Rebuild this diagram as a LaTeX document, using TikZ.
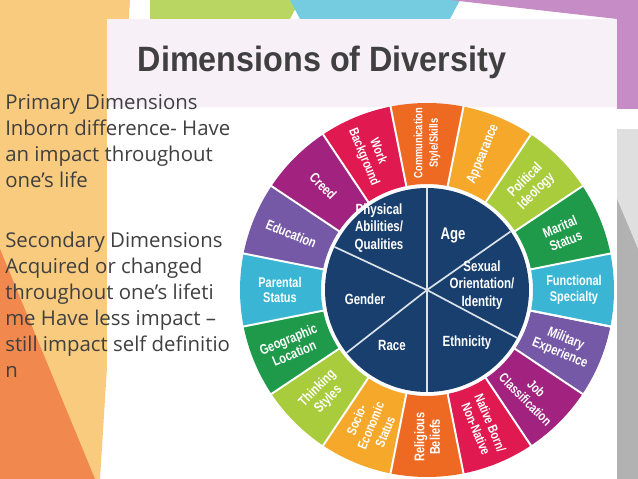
\documentclass[tikz,border=0pt]{standalone}
\usepackage{fontspec}
\setmainfont{Open Sans}
\newfontfamily\wheelfont{Liberation Sans}[FakeStretch=0.78]
\newfontfamily\titlefont{Liberation Sans}[FakeStretch=0.92]
\definecolor{dvOrange}{HTML}{EE6A22}
\definecolor{dvAmber}{HTML}{F5A82A}
\definecolor{dvLime}{HTML}{A8CC3C}
\definecolor{dvGreen}{HTML}{1E9A4A}
\definecolor{dvCyan}{HTML}{3AB6D4}
\definecolor{dvPurple}{HTML}{7558A6}
\definecolor{dvMagenta}{HTML}{A1237F}
\definecolor{dvRed}{HTML}{E01A50}
\definecolor{dvNavy}{HTML}{183F6E}
\definecolor{dvText}{HTML}{404040}
\begin{document}
\begin{tikzpicture}[x=0.025cm,y=0.025cm,
  ringlabel/.style={text=white,font=\wheelfont\bfseries\fontsize{#1}{11}\selectfont,inner sep=0pt,align=center},
  corelabel/.style={text=white,font=\wheelfont\bfseries\fontsize{10.5}{12.5}\selectfont,inner sep=0pt,align=center},
  bodytext/.style={text=dvText,font=\fontsize{14.5}{18.5}\selectfont,anchor=north west,align=left,inner sep=0pt}]
\useasboundingbox (0,0) rectangle (638,479);
% slide background
\fill[dvAmber!60] (0,479) -- (130,479) -- (100,0) -- (0,0) -- cycle;
\fill[dvOrange!80] (0,230) -- (95,0) -- (0,0) -- cycle;
\fill[dvLime!80] (150,479) -- (300,479) -- (290,460) -- (150,460) -- cycle;
\fill[dvCyan!70] (290,479) -- (460,479) -- (450,460) -- (300,460) -- cycle;
\fill[violet!45] (450,479) -- (638,479) -- (638,370) -- (617,370) -- (617,460) -- cycle;
\fill[gray!25] (617,350) rectangle (638,0);
\fill[gray!60] (638,230) -- (617,280) -- (617,0) -- (638,0) -- cycle;
\fill[white] (107,0) rectangle (617,460);
\fill[violet!6] (107,460) rectangle (617,372);
% title and text
\node[text=dvText,font=\titlefont\bfseries\fontsize{25}{28}\selectfont] (title) at (322,417) {Dimensions of Diversity};
\node[bodytext] (primary) at (5,385) {Primary Dimensions\\Inborn difference- Have\\an impact throughout\\one’s life};
\node[bodytext] (secondary) at (5,247) {Secondary Dimensions\\Acquired or changed\\throughout one’s lifeti\\me Have less impact –\\still impact self definitio\\n};
% the wheel
\begin{scope}[shift={(427,189)}]
  \foreach \a/\col/\fs/\txt [count=\i] in {
      90/dvOrange/8.5/{Communication\\Style/Skills},
      67.5/dvAmber/10/{Appearance},
      45/dvLime/10/{Political\\Ideology},
      22.5/dvGreen/10/{Marital\\Status},
      0/dvCyan/10/{Functional\\Specialty},
      -22.5/dvPurple/10/{Military\\Experience},
      -45/dvMagenta/9.5/{Job\\Classification},
      -67.5/dvRed/9.5/{Native Born/\\Non-Native},
      -90/dvOrange/10/{Religious\\Beliefs},
      -112.5/dvAmber/9.5/{Socio-\\Economic\\Status},
      -135/dvLime/10/{Thinking\\Styles},
      -157.5/dvGreen/10/{Geographic\\Location},
      180/dvCyan/10/{Parental\\Status},
      157.5/dvPurple/10/{Education},
      135/dvMagenta/10/{Creed},
      112.5/dvRed/9.5/{Work\\Background}}{
    \fill[\col] (\a-11.25:106) -- (\a-11.25:187) arc[start angle=\a-11.25,end angle=\a+11.25,radius=187]
      -- (\a+11.25:106) arc[start angle=\a+11.25,end angle=\a-11.25,radius=106] -- cycle;
    \pgfmathsetmacro\rot{(\a>90)?(\a-180):((\a<-89)?(\a+180):\a)}
    \node[ringlabel=\fs,rotate=\rot] (ring\i) at (\a:147) {\txt};
  }
  \foreach \a in {-11.25,11.25,...,348.75}
    \draw[white,line width=1.4pt] (\a:105) -- (\a:188);
  \fill[dvNavy] (0,0) coordinate (hub) circle (102);
  \foreach \a in {90,35,-28,-90,-142,155}
    \draw[white!85!dvNavy,line width=1.2pt] (hub) -- (\a:102);
  \node[corelabel] (physical) at (-48,62) {Physical\\Abilities/\\Qualities};
  \node[corelabel,font=\wheelfont\bfseries\fontsize{12}{13}\selectfont] (age) at (26,55) {Age};
  \node[corelabel] (sexual) at (55,5) {Sexual\\Orientation/\\Identity};
  \node[corelabel] (gender) at (-62,-9) {Gender};
  \node[corelabel] (race) at (-35,-55) {Race};
  \node[corelabel] (ethnicity) at (40,-53) {Ethnicity};
\end{scope}
\end{tikzpicture}
\end{document}
